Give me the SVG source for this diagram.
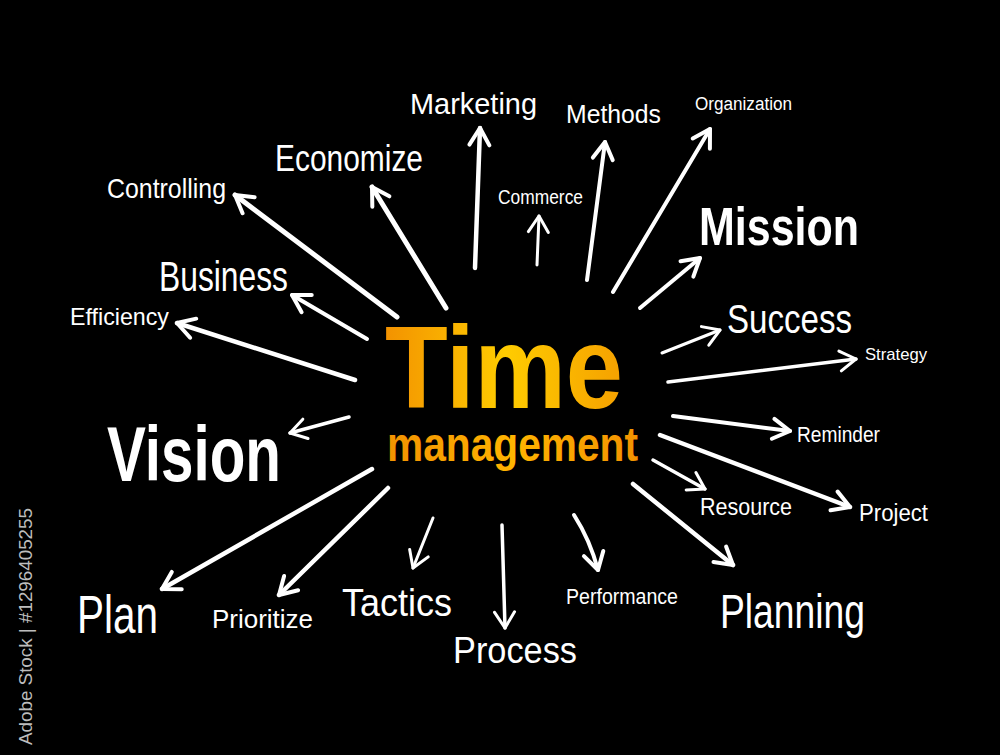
<svg xmlns="http://www.w3.org/2000/svg" width="1000" height="755" viewBox="0 0 1000 755">
<defs>
<style>
.t{font-family:"Liberation Sans",Arial,sans-serif;fill:#fff;}
.b{font-weight:bold;}
.c{stroke:#fff;fill:none;stroke-linecap:round;stroke-linejoin:round;}
</style>
<marker id="ah" viewBox="-22 -14 26 28" refX="0" refY="0" markerWidth="26" markerHeight="28" markerUnits="userSpaceOnUse" orient="auto" overflow="visible">
<path d="M -17 -10 L 0 0 L -17 10" fill="none" stroke="#fff" stroke-width="4" stroke-linecap="round" stroke-linejoin="round"/>
</marker>
<marker id="ahs" viewBox="-22 -14 26 28" refX="0" refY="0" markerWidth="26" markerHeight="28" markerUnits="userSpaceOnUse" orient="auto" overflow="visible">
<path d="M -16 -10 L 0 0 L -16 10" fill="none" stroke="#fff" stroke-width="3" stroke-linecap="round" stroke-linejoin="round"/>
</marker>
<linearGradient id="gTime" gradientUnits="userSpaceOnUse" x1="385" y1="0" x2="625" y2="0">
<stop offset="0" stop-color="#f39200"/>
<stop offset="0.5" stop-color="#ffcc00"/>
<stop offset="1" stop-color="#f5a000"/>
</linearGradient>
<linearGradient id="gMan" gradientUnits="userSpaceOnUse" x1="387" y1="0" x2="638" y2="0">
<stop offset="0" stop-color="#f39200"/>
<stop offset="0.5" stop-color="#ffb400"/>
<stop offset="1" stop-color="#f39200"/>
</linearGradient>
</defs>
<rect x="0" y="0" width="1000" height="755" fill="#000"/>
<g id="connectors" class="c">
<line x1="397" y1="317" x2="235" y2="195" stroke-width="5" marker-end="url(#ah)"/>
<line x1="446" y1="308" x2="372" y2="187" stroke-width="5" marker-end="url(#ah)"/>
<line x1="475" y1="268" x2="480" y2="128" stroke-width="4.5" marker-end="url(#ah)"/>
<line x1="367" y1="339" x2="292" y2="295" stroke-width="4" marker-end="url(#ah)"/>
<line x1="355" y1="380" x2="177" y2="323" stroke-width="4.5" marker-end="url(#ah)"/>
<line x1="537" y1="265" x2="539" y2="216" stroke-width="3" marker-end="url(#ahs)"/>
<line x1="587" y1="280" x2="605" y2="142" stroke-width="4" marker-end="url(#ah)"/>
<line x1="613" y1="292" x2="710" y2="129" stroke-width="4" marker-end="url(#ah)"/>
<line x1="640" y1="308" x2="700" y2="258" stroke-width="4" marker-end="url(#ah)"/>
<line x1="662" y1="353" x2="720" y2="330" stroke-width="3" marker-end="url(#ahs)"/>
<line x1="668" y1="382" x2="856" y2="359" stroke-width="3.5" marker-end="url(#ahs)"/>
<line x1="349" y1="417" x2="290" y2="433" stroke-width="3.5" marker-end="url(#ahs)"/>
<line x1="372" y1="469" x2="162" y2="589" stroke-width="4.5" marker-end="url(#ah)"/>
<line x1="388" y1="488" x2="279" y2="595" stroke-width="4.5" marker-end="url(#ah)"/>
<line x1="433" y1="518" x2="413" y2="568" stroke-width="3" marker-end="url(#ahs)"/>
<line x1="673" y1="416" x2="790" y2="431" stroke-width="4" marker-end="url(#ah)"/>
<line x1="660" y1="435" x2="850" y2="507" stroke-width="4.5" marker-end="url(#ah)"/>
<line x1="653" y1="460" x2="705" y2="489" stroke-width="3.5" marker-end="url(#ahs)"/>
<line x1="633" y1="484" x2="733" y2="565" stroke-width="4.5" marker-end="url(#ah)"/>
<path d="M 574 515 Q 590 540 598 570" stroke-width="4" marker-end="url(#ah)"/>
<line x1="502" y1="525" x2="505" y2="628" stroke-width="3.5" marker-end="url(#ahs)"/>
</g>
<g id="center">
<text class="t b" x="385" y="408" font-size="116" textLength="238" lengthAdjust="spacingAndGlyphs" style="fill:url(#gTime)">Time</text>
<text class="t b" x="387" y="461" font-size="48" textLength="251" lengthAdjust="spacingAndGlyphs" style="fill:url(#gMan)">management</text>
</g>
<g id="marketing"><text class="t" x="410" y="114" font-size="30" textLength="127" lengthAdjust="spacingAndGlyphs">Marketing</text></g>
<g id="methods"><text class="t" x="566" y="123" font-size="25" textLength="95" lengthAdjust="spacingAndGlyphs">Methods</text></g>
<g id="organization"><text class="t" x="695" y="110" font-size="18" textLength="97" lengthAdjust="spacingAndGlyphs">Organization</text></g>
<g id="economize"><text class="t" x="275" y="171" font-size="36" textLength="148" lengthAdjust="spacingAndGlyphs">Economize</text></g>
<g id="controlling"><text class="t" x="107" y="198" font-size="28" textLength="119" lengthAdjust="spacingAndGlyphs">Controlling</text></g>
<g id="commerce"><text class="t" x="498" y="204" font-size="20" textLength="85" lengthAdjust="spacingAndGlyphs">Commerce</text></g>
<g id="mission"><text class="t b" x="699" y="245" font-size="54" textLength="160" lengthAdjust="spacingAndGlyphs">Mission</text></g>
<g id="business"><text class="t" x="159" y="291" font-size="42" textLength="129" lengthAdjust="spacingAndGlyphs">Business</text></g>
<g id="efficiency"><text class="t" x="70" y="325" font-size="24" textLength="99" lengthAdjust="spacingAndGlyphs">Efficiency</text></g>
<g id="success"><text class="t" x="727" y="333" font-size="40" textLength="125" lengthAdjust="spacingAndGlyphs">Success</text></g>
<g id="strategy"><text class="t" x="865" y="360" font-size="17" textLength="62" lengthAdjust="spacingAndGlyphs">Strategy</text></g>
<g id="vision"><text class="t b" x="107" y="481" font-size="78" textLength="174" lengthAdjust="spacingAndGlyphs">Vision</text></g>
<g id="reminder"><text class="t" x="797" y="442" font-size="22" textLength="83" lengthAdjust="spacingAndGlyphs">Reminder</text></g>
<g id="resource"><text class="t" x="700" y="515" font-size="24" textLength="92" lengthAdjust="spacingAndGlyphs">Resource</text></g>
<g id="project"><text class="t" x="859" y="521" font-size="23" textLength="69" lengthAdjust="spacingAndGlyphs">Project</text></g>
<g id="plan"><text class="t" x="77" y="633" font-size="54" textLength="81" lengthAdjust="spacingAndGlyphs">Plan</text></g>
<g id="prioritize"><text class="t" x="212" y="628" font-size="26" textLength="101" lengthAdjust="spacingAndGlyphs">Prioritize</text></g>
<g id="tactics"><text class="t" x="342" y="616" font-size="38" textLength="110" lengthAdjust="spacingAndGlyphs">Tactics</text></g>
<g id="process"><text class="t" x="453" y="663" font-size="36" textLength="124" lengthAdjust="spacingAndGlyphs">Process</text></g>
<g id="performance"><text class="t" x="566" y="604" font-size="22" textLength="112" lengthAdjust="spacingAndGlyphs">Performance</text></g>
<g id="planning"><text class="t" x="720" y="628" font-size="48" textLength="145" lengthAdjust="spacingAndGlyphs">Planning</text></g>
<g id="stock-id"><text x="0" y="0" transform="translate(32,745) rotate(-90)" font-family="Liberation Sans, Arial, sans-serif" font-size="19" fill="#bdbdbd" textLength="237" lengthAdjust="spacingAndGlyphs">Adobe Stock | #1296405255</text></g>
</svg>
